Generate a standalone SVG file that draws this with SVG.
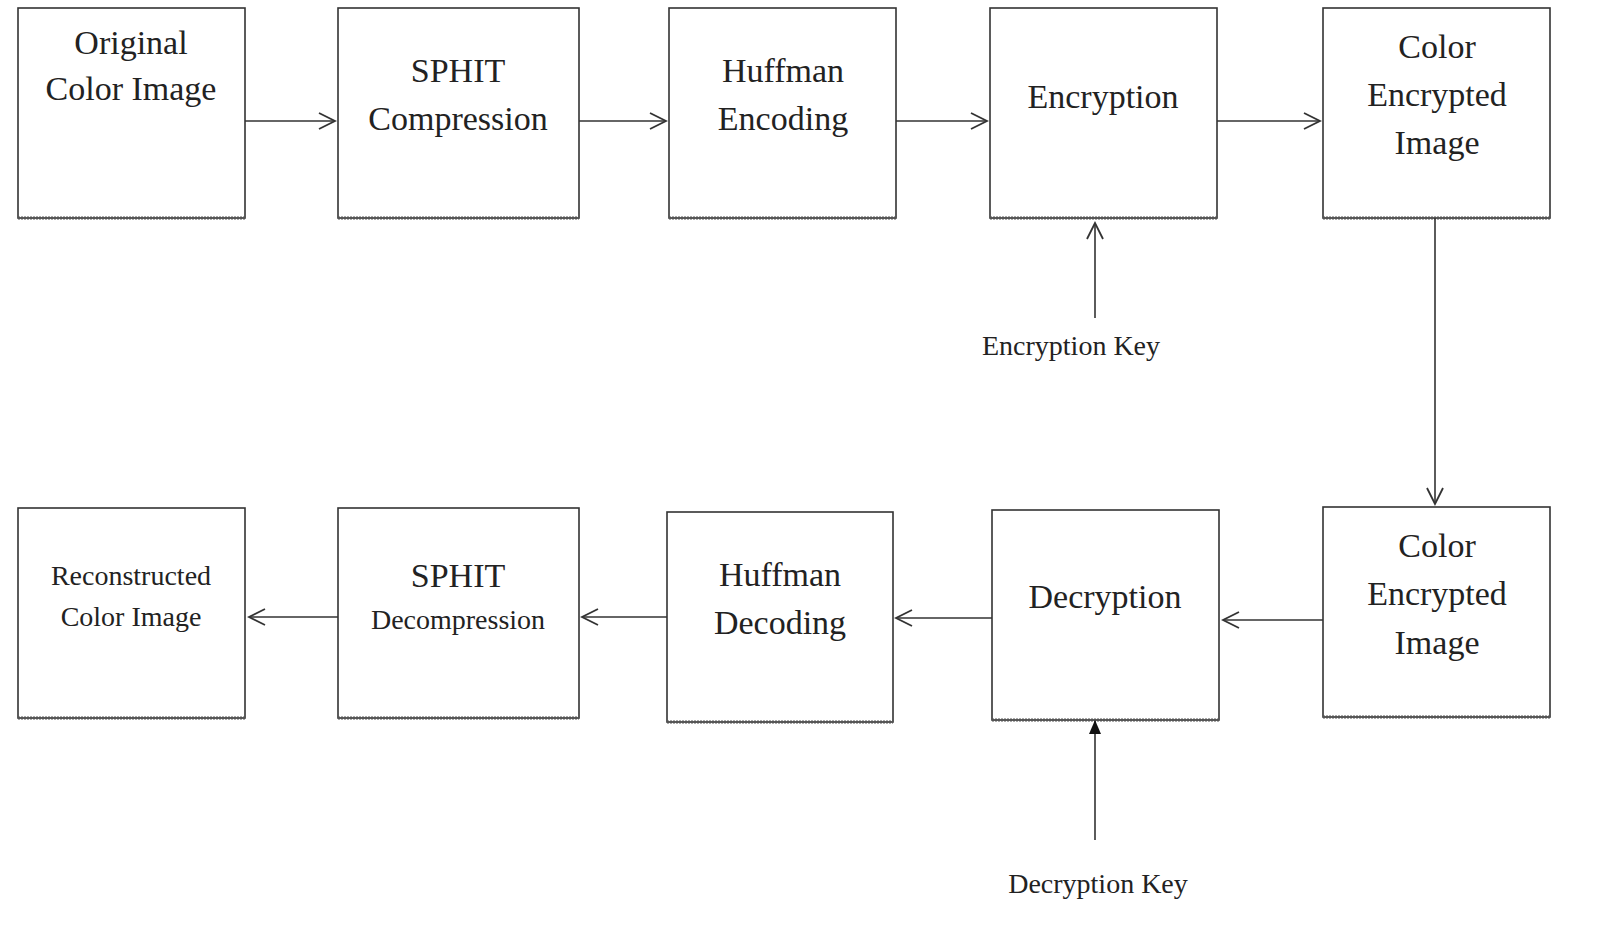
<svg xmlns="http://www.w3.org/2000/svg" width="1599" height="936" viewBox="0 0 1599 936">
<style>
.b{fill:#fff;stroke:#333;stroke-width:1.6}
.s{stroke:#555;stroke-width:3;stroke-dasharray:2 1}
.t{font-family:"Liberation Serif",serif;font-size:34px;fill:#222;text-anchor:middle}
.m{font-size:28px}
.c{stroke:#333;stroke-width:1.6;fill:none}
</style>
<defs>
<marker id="o" viewBox="0 0 20 20" refX="18" refY="10" markerWidth="20" markerHeight="20" markerUnits="userSpaceOnUse" orient="auto"><path d="M2,2 L18,10 L2,18" fill="none" stroke="#333" stroke-width="1.8"/></marker>
<marker id="f" viewBox="0 0 14 14" refX="13" refY="7" markerWidth="14" markerHeight="14" markerUnits="userSpaceOnUse" orient="auto"><path d="M0,1 L14,7 L0,13 Z" fill="#111"/></marker>
</defs>
<rect width="1599" height="936" fill="#fff"/>
<g id="n1"><rect class="b" x="18" y="8" width="227" height="210"/><line class="s" x1="18" y1="218" x2="245" y2="218"/><text class="t" x="131" y="54">Original</text><text class="t" x="131" y="100">Color Image</text></g>
<g id="n2"><rect class="b" x="338" y="8" width="241" height="210"/><line class="s" x1="338" y1="218" x2="579" y2="218"/><text class="t" x="458" y="82">SPHIT</text><text class="t" x="458" y="130">Compression</text></g>
<g id="n3"><rect class="b" x="669" y="8" width="227" height="210"/><line class="s" x1="669" y1="218" x2="896" y2="218"/><text class="t" x="783" y="82">Huffman</text><text class="t" x="783" y="130">Encoding</text></g>
<g id="n4"><rect class="b" x="990" y="8" width="227" height="210"/><line class="s" x1="990" y1="218" x2="1217" y2="218"/><text class="t" x="1103" y="108">Encryption</text></g>
<g id="n5"><rect class="b" x="1323" y="8" width="227" height="210"/><line class="s" x1="1323" y1="218" x2="1550" y2="218"/><text class="t" x="1437" y="58">Color</text><text class="t" x="1437" y="106">Encrypted</text><text class="t" x="1437" y="154">Image</text></g>
<g id="n6"><rect class="b" x="1323" y="507" width="227" height="210"/><line class="s" x1="1323" y1="717" x2="1550" y2="717"/><text class="t" x="1437" y="557">Color</text><text class="t" x="1437" y="605">Encrypted</text><text class="t" x="1437" y="654">Image</text></g>
<g id="n7"><rect class="b" x="992" y="510" width="227" height="210"/><line class="s" x1="992" y1="720" x2="1219" y2="720"/><text class="t" x="1105" y="608">Decryption</text></g>
<g id="n8"><rect class="b" x="667" y="512" width="226" height="210"/><line class="s" x1="667" y1="722" x2="893" y2="722"/><text class="t" x="780" y="586">Huffman</text><text class="t" x="780" y="634">Decoding</text></g>
<g id="n9"><rect class="b" x="338" y="508" width="241" height="210"/><line class="s" x1="338" y1="718" x2="579" y2="718"/><text class="t" x="458" y="587">SPHIT</text><text class="t m" x="458" y="629">Decompression</text></g>
<g id="n10"><rect class="b" x="18" y="508" width="227" height="210"/><line class="s" x1="18" y1="718" x2="245" y2="718"/><text class="t m" x="131" y="585">Reconstructed</text><text class="t m" x="131" y="626">Color Image</text></g>
<g id="k1"><text class="t m" x="1071" y="355">Encryption Key</text></g>
<g id="k2"><text class="t m" x="1098" y="893">Decryption Key</text></g>
<g id="edges">
<line class="c" x1="245" y1="121" x2="335" y2="121" marker-end="url(#o)"/>
<line class="c" x1="579" y1="121" x2="666" y2="121" marker-end="url(#o)"/>
<line class="c" x1="896" y1="121" x2="987" y2="121" marker-end="url(#o)"/>
<line class="c" x1="1217" y1="121" x2="1320" y2="121" marker-end="url(#o)"/>
<line class="c" x1="1435" y1="218" x2="1435" y2="504" marker-end="url(#o)"/>
<line class="c" x1="1323" y1="620" x2="1223" y2="620" marker-end="url(#o)"/>
<line class="c" x1="992" y1="618" x2="896" y2="618" marker-end="url(#o)"/>
<line class="c" x1="667" y1="617" x2="582" y2="617" marker-end="url(#o)"/>
<line class="c" x1="338" y1="617" x2="249" y2="617" marker-end="url(#o)"/>
<line class="c" x1="1095" y1="318" x2="1095" y2="223" marker-end="url(#o)"/>
<line class="c" x1="1095" y1="840" x2="1095" y2="721" marker-end="url(#f)"/>
</g>
</svg>
